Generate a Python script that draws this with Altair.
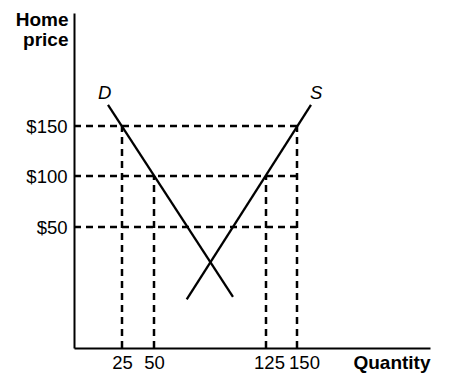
import altair as alt
import pandas as pd

# ---- data ----
price_ticks = [50, 100, 150]
qty_ticks = [25, 50, 125, 150]

# dashed guide lines
h_price = [150, 100, 50]
h_q_start = [0, 0, 0]
h_q_end = [150, 150, 150]
v_qty = [25, 50, 125, 150]
v_p_bottom = [0, 0, 0, 0]
v_p_top = [150, 100, 100, 150]

# demand (D) and supply (S) curves, end points
curve_names = ["D", "D", "S", "S"]
curve_q = [17.7, 102.9, 71.9, 160.5]
curve_p = [168.6, 21.1, 20.1, 168.6]

# curve labels
label_text = ["D", "S"]
label_q = [16.0, 164.5]
label_p = [173.5, 173.5]

FONT = "Liberation Sans"

h_df = pd.DataFrame({"p": h_price, "q0": h_q_start, "q1": h_q_end})
v_df = pd.DataFrame({"q": v_qty, "p0": v_p_bottom, "p1": v_p_top})
c_df = pd.DataFrame({"curve": curve_names, "q": curve_q, "p": curve_p})
l_df = pd.DataFrame({"text": label_text, "q": label_q, "p": label_p})

# schematic (piecewise) scales, as in the hand-drawn diagram
x_scale = alt.Scale(domain=[0, 25, 50, 125, 150, 250],
                    range=[0, 48, 80, 192, 223, 356], nice=False, zero=False)
y_scale = alt.Scale(domain=[0, 50, 100, 150, 250],
                    range=[335, 214, 163, 113, 0], nice=False, zero=False)

x_axis = alt.Axis(values=qty_ticks, ticks=False, tickSize=0, grid=False,
                  domainColor="black", domainWidth=2,
                  labelFont=FONT, labelFontSize=18.5, labelColor="black",
                  labelBaseline="alphabetic", labelPadding=20, labelAlign="center",
                  labelOffset={"condition": [{"test": "datum.value == 150", "value": 7},
                                             {"test": "datum.value == 125", "value": 3}],
                               "value": 0},
                  title="Quantity", titleFont=FONT, titleFontSize=19,
                  titleFontWeight="bold", titleColor="black",
                  titleAlign="right", titleBaseline="alphabetic",
                  titleX=356, titleY=20, labelFlush=False)
y_axis = alt.Axis(values=price_ticks, ticks=False, tickSize=0, grid=False,
                  domainColor="black", domainWidth=2,
                  labelFont=FONT, labelFontSize=18.5, labelColor="black",
                  labelBaseline="middle", labelPadding=7,
                  labelExpr="'$' + datum.value",
                  title=["Home", "price"], titleFont=FONT, titleFontSize=19,
                  titleFontWeight="bold", titleColor="black",
                  titleAngle=0, titleAlign="right", titleBaseline="alphabetic",
                  titleX=-6, titleY=12, titleLineHeight=20, labelFlush=False)

h_rules = alt.Chart(h_df).mark_rule(color="black", strokeWidth=2.5, strokeDash=[7, 5]).encode(
    x=alt.X("q0:Q", scale=x_scale, axis=x_axis),
    x2="q1:Q",
    y=alt.Y("p:Q", scale=y_scale, axis=y_axis),
)
v_rules = alt.Chart(v_df).mark_rule(color="black", strokeWidth=2.5, strokeDash=[7, 5]).encode(
    x=alt.X("q:Q", scale=x_scale, axis=x_axis),
    y=alt.Y("p0:Q", scale=y_scale, axis=y_axis),
    y2="p1:Q",
)
curves = alt.Chart(c_df).mark_line(color="black", strokeWidth=2.3).encode(
    x=alt.X("q:Q", scale=x_scale, axis=x_axis),
    y=alt.Y("p:Q", scale=y_scale, axis=y_axis),
    detail="curve:N",
)
labels = alt.Chart(l_df).mark_text(font=FONT, fontSize=18.5, fontStyle="italic",
                                   color="black", align="center",
                                   baseline="alphabetic").encode(
    x=alt.X("q:Q", scale=x_scale, axis=x_axis),
    y=alt.Y("p:Q", scale=y_scale, axis=y_axis),
    text="text:N",
)

chart = alt.layer(h_rules, v_rules, curves, labels).properties(
    width=356, height=335,
    autosize=alt.AutoSizeParams(type="none"),
    padding={"left": 74, "top": 13, "right": 29, "bottom": 36},
    background="white",
).configure_view(stroke=None)

chart.save("out.html", embed_options={"renderer": "svg", "actions": False})
